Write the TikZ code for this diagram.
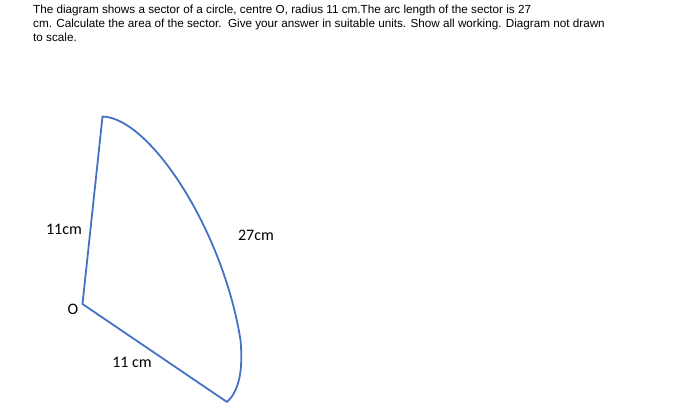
\documentclass[tikz,border=0pt]{standalone}
\usepackage{fontspec}
\setmainfont{Liberation Sans}
\newfontfamily\labelfont{Carlito}
\definecolor{secblue}{HTML}{4472C4}
\begin{document}
\begin{tikzpicture}[x=1pt,y=-1pt,
  qtext/.style={anchor=base west,inner sep=0pt,font=\fontsize{11.7}{14}\selectfont},
  lbl/.style={inner sep=0pt,font=\labelfont\fontsize{16}{19}\selectfont},
  edge/.style={draw=secblue,line width=1.8pt,line join=round}]
\useasboundingbox[fill=white] (0,0) rectangle (700,412);
\node[qtext] (t1) at (33,13.5) {The diagram shows a sector of a circle, centre O, radius 11 cm.The arc length of the sector is 27};
\node[qtext] (t2) at (33,27.5) {cm. Calculate the area of the sector.\ \ Give your answer in suitable units. Show all working. Diagram not drawn};
\node[qtext] (t3) at (33,41.5) {to scale.};
\coordinate (O) at (82.5,304);
\coordinate (A) at (102.5,116.5);
\coordinate (B) at (227,402);
\draw[edge] (B) -- (O) -- (A)
  .. controls (150,118) and (223,230) .. (240.5,340)
  .. controls (243,368) and (240,390) .. (B);
\node[lbl] (l1) at (64,229) {11cm};
\node[lbl] (l2) at (256,235) {27cm};
\node[lbl] (l3) at (132,362) {11 cm};
\node[lbl] (lo) at (73,309) {O};
\end{tikzpicture}
\end{document}
